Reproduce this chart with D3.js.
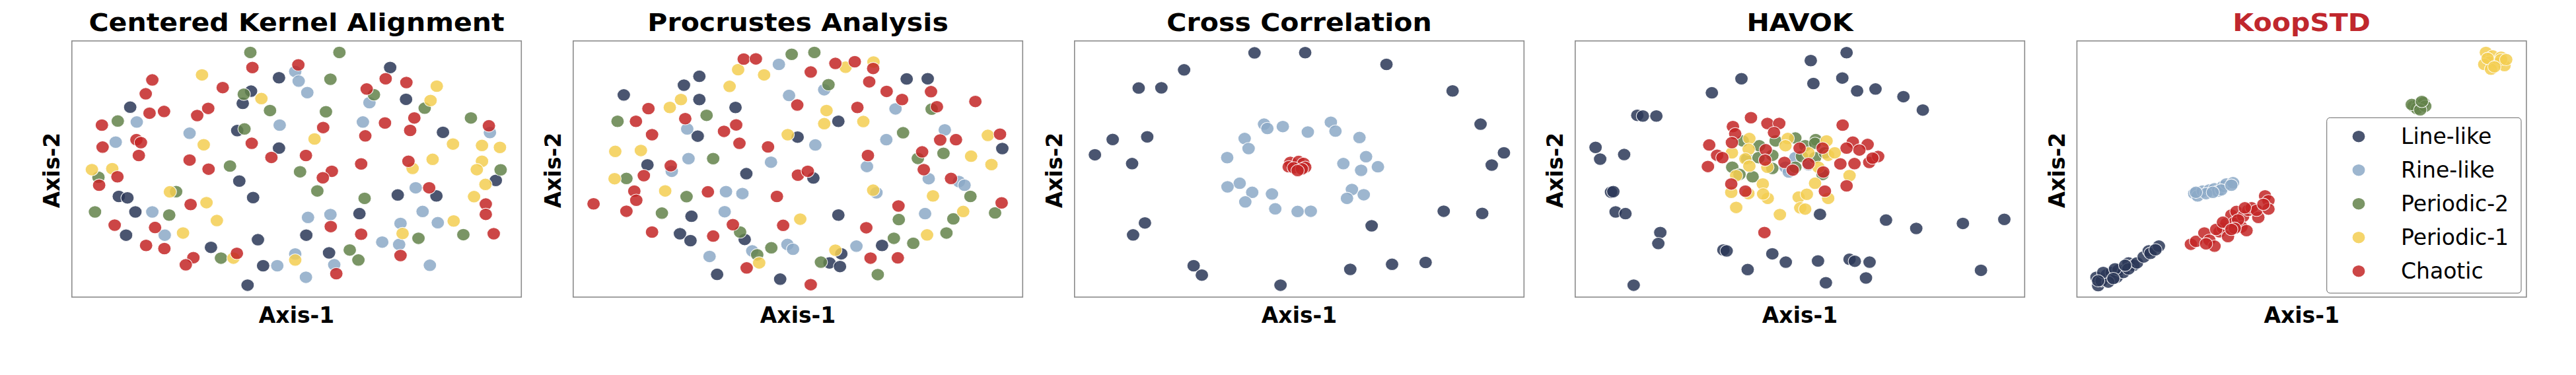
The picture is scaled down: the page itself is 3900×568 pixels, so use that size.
<!DOCTYPE html>
<html><head><meta charset="utf-8">
<script src="https://cdn.jsdelivr.net/npm/d3@7"></script>
<style>body{margin:0;background:#fff}svg{display:block}</style>
</head><body>
<script>
// ---- data (embedding coordinates; Axis-2 grows downward) ----
const classes = ["Line-like", "Rine-like", "Periodic-2", "Periodic-1", "Chaotic"];
const classColors = ["#2a3757", "#8ca9c7", "#63834a", "#f3ce51", "#c32626"];
const panelTitles = ["Centered Kernel Alignment", "Procrustes Analysis", "Cross Correlation", "HAVOK", "KoopSTD"];
const xDomains = [[208,1510],[96,1464],[94,1460],[90,1458],[87,1420]];
const yDomain = [172,1243];

// class codes: 0 Line-like, 1 Rine-like, 2 Periodic-2, 3 Periodic-1, 4 Chaotic
const ckaPoints = [
[725,220,2],[983,220,2],[855,300,1],[731,283,4],[864,272,4],[1130,283,0],
[585,314,3],[808,326,0],[865,340,1],[957,332,2],[441,335,4],[1117,330,4],[1177,346,4],[1265,361,3],
[645,367,4],[422,393,4],[727,382,0],[706,395,2],[757,413,3],[890,388,1],[1062,373,4],[1083,397,2],[1176,416,0],[1247,421,3],
[703,433,0],[1070,430,1],[1230,453,2],[377,449,0],[433,474,4],[475,467,4],[603,454,4],[571,484,4],[782,463,2],[944,468,2],[1200,494,4],
[341,507,2],[396,511,1],[295,524,4],[810,524,1],[1051,511,1],[1115,515,4],[936,534,4],[1188,546,4],[1364,494,2],[1419,555,1],[1416,527,4],[687,547,0],[708,540,2],[549,558,1],[1283,554,0],[1058,569,4],
[335,595,1],[395,585,4],[408,597,4],[590,606,3],[911,582,3],[729,600,4],[297,616,4],[1312,603,3],[1396,609,3],[1448,617,3],
[808,620,0],[402,651,4],[786,659,4],[886,651,4],[1046,686,4],[1195,705,3],[1183,675,4],[1253,667,3],[1396,675,3],
[266,710,3],[325,706,3],[285,742,2],[340,740,4],[549,670,4],[604,708,4],[666,695,2],[869,719,2],[961,717,4],[935,744,4],[1381,710,3],[1450,711,2],
[287,775,4],[693,758,0],[1436,755,0],[1406,772,3],[1204,786,1],[1243,786,4],[919,799,2],
[344,822,0],[369,828,0],[510,802,2],[492,803,3],[733,827,0],[1056,830,2],[1152,816,0],[1264,820,0],[1373,823,3],[1407,854,4],
[552,856,4],[598,848,3],[275,887,2],[392,887,0],[441,887,1],[490,900,2],[892,910,1],[957,898,1],[1041,894,0],[1224,885,1],[1407,897,4],
[628,923,3],[332,942,4],[449,952,4],[1160,935,1],[1268,932,1],[1314,925,3],[958,948,4],
[365,984,0],[477,984,1],[530,975,3],[747,1003,0],[887,984,0],[1046,980,4],[1166,977,3],[1212,997,2],[1342,982,2],[1430,978,4],
[423,1027,4],[476,1040,4],[611,1035,0],[1107,1013,1],[1156,1023,1],[1013,1046,2],
[640,1080,2],[676,1080,3],[560,1078,4],[686,1060,4],[855,1063,1],[855,1088,3],[953,1058,0],[1038,1088,2],[1160,1069,4],
[538,1108,4],[762,1112,0],[803,1112,1],[968,1108,1],[974,1145,4],[886,1160,1],[1245,1110,1],[717,1193,0]
];

const procrustesPoints = [
[761,228,2],[830,220,2],
[615,248,4],[652,247,4],[722,270,1],[894,266,4],[953,259,4],[1010,260,3],[925,282,3],[1009,287,4],
[598,292,3],[677,314,3],[819,302,4],[480,320,0],[1111,331,0],[1175,330,0],[997,343,4],[433,357,0],[572,362,3],[860,376,1],[873,355,2],
[1050,383,4],[1185,384,4],[250,398,0],[753,400,1],[424,417,3],[480,417,0],[1097,417,4],[1320,425,4],
[325,455,4],[390,450,3],[590,450,0],[778,440,4],[961,450,4],[1077,456,1],[1187,457,2],[1203,447,4],[867,463,3],
[231,508,2],[287,508,4],[502,483,2],[437,497,4],[592,523,4],[860,518,3],[903,508,0],[979,509,3],
[443,540,1],[475,570,0],[336,564,4],[555,550,4],[779,574,0],[749,564,3],[1100,556,2],[1227,544,1],[1213,586,4],[1261,585,4],[1358,567,3],[1395,562,4],[1049,585,1],
[224,634,3],[302,630,3],[602,600,4],[689,615,4],[833,607,1],[993,651,4],[1145,663,2],[1158,636,4],[1223,642,2],[1402,622,0],[1307,654,3],
[322,690,0],[396,717,1],[393,694,4],[447,664,1],[522,664,2],[698,679,1],[1369,689,3],[990,697,1],[1163,710,4],
[222,748,3],[258,747,2],[311,735,4],[623,727,0],[827,745,0],[780,733,4],[810,717,4],[1178,748,1],[1270,760,1],[1287,775,1],[1246,747,4],
[282,800,4],[288,838,4],[376,799,3],[441,823,2],[506,803,4],[561,802,1],[611,810,1],[716,822,4],[1019,807,1],[1009,796,3],[1191,820,3],[1305,822,2],[1400,849,4],
[158,853,4],[258,884,4],[366,892,2],[456,905,0],[557,886,1],[1086,862,4],[1167,894,1],[1283,885,3],[1380,891,2],[903,900,0],[787,917,3],
[1087,919,2],[1253,916,2],[582,940,4],[735,943,4],[988,953,4],[336,971,4],[421,978,0],[522,988,4],[618,1002,0],[604,971,2],[1173,983,3],[1232,975,2],[453,1007,0],
[1072,997,2],[1131,1018,2],[1036,1027,0],[958,1030,1],[748,1023,1],[765,1043,1],[699,1037,2],[641,1050,1],[656,1066,2],[912,1062,0],[894,1047,3],[511,1073,1],
[1001,1080,4],[1084,1079,4],[662,1100,3],[624,1121,4],[876,1100,0],[908,1115,0],[850,1097,2],[534,1148,0],[726,1168,0],[1023,1149,2],[819,1191,4]
];

const crossCorrPoints = [
[641,222,0],[795,221,0],[1042,270,0],[427,293,0],[289,369,0],[358,368,0],[1243,381,0],[1328,520,0],[210,584,0],[315,573,0],
[156,648,0],[269,685,0],[1399,640,0],[1362,691,0],[1216,884,0],[1333,893,0],[997,945,0],[308,933,0],[272,983,0],[456,1112,0],
[481,1151,0],[720,1193,0],[932,1127,0],[1059,1106,0],[1161,1098,0],
[670,520,1],[680,538,1],[727,530,1],[803,553,1],[873,512,1],[887,549,1],[960,576,1],[611,580,1],[623,622,1],[558,660,1],
[980,656,1],[911,685,1],[965,713,1],[1016,698,1],[596,767,1],[559,782,1],[634,805,1],[694,812,1],[613,845,1],[704,874,1],
[772,885,1],[812,884,1],[937,793,1],[973,815,1],[922,830,1],
[750,680,4],[775,676,4],[790,684,4],[745,698,4],[795,700,4],[760,702,4],[785,707,4],[772,714,4]
];

const havokPoints = [
[916,221,0],[807,254,0],[596,330,0],[815,350,0],[903,327,0],[506,389,0],[948,381,0],[1004,373,0],[1089,405,0],[1148,461,0],
[279,483,0],[296,486,0],[337,486,0],[152,617,0],[166,666,0],[239,647,0],[199,804,0],[206,802,0],[213,887,0],[243,894,0],
[349,973,0],[343,1019,0],[541,1046,0],[551,1050,0],[690,1062,0],[731,1097,0],[835,897,0],[829,1092,0],[925,1085,0],[941,1093,0],
[986,1097,0],[615,1128,0],[853,1183,0],[975,1163,0],[268,1193,0],[1036,921,0],[1128,956,0],[1270,935,0],[1396,918,0],[1325,1131,0],
[730,700,1],[740,720,1],[800,690,1],[760,660,1],
[600,590,2],[650,610,2],[700,590,2],[760,578,2],[822,585,2],[790,610,2],[568,700,2],[613,665,2],[648,660,2],[690,650,2],
[690,705,2],[630,740,2],[590,730,2],[820,660,2],[850,640,2],[780,655,2],[760,700,2],[843,730,2],[820,600,2],
[620,580,3],[737,580,3],[855,590,3],[618,625,3],[567,640,3],[608,665,3],[675,700,3],[620,695,3],[580,735,3],[730,610,3],
[800,640,3],[860,650,3],[880,640,3],[925,735,3],[661,770,3],[820,767,3],[565,805,3],[617,810,3],[676,830,3],[662,812,3],
[770,825,3],[795,813,3],[860,830,3],[580,868,3],[775,870,3],[790,875,3],[713,898,3],[830,700,3],
[625,493,4],[570,530,4],[675,517,4],[711,517,4],[695,555,4],[577,560,4],[567,597,4],[498,607,4],[522,650,4],[538,660,4],
[494,697,4],[670,627,4],[668,670,4],[727,680,4],[752,712,4],[773,620,4],[800,685,4],[843,620,4],[845,720,4],[904,524,4],
[935,595,4],[916,620,4],[980,605,4],[955,628,4],[897,686,4],[940,685,4],[985,680,4],[1012,655,4],[995,662,4],[565,770,4],
[608,800,4],[850,800,4],[916,778,4],[666,973,4]
];

const koopstdPoints = [
[150,1195,0],[145,1160,0],[160,1175,0],[175,1150,0],[190,1140,0],[205,1160,0],[210,1130,0],[225,1140,0],[240,1100,0],[255,1110,0],
[240,1125,0],[265,1100,0],[285,1075,0],[300,1050,0],[305,1060,0],[330,1030,0],[320,1045,0],[180,1180,0],[165,1140,0],[200,1125,0],
[150,1175,0],[195,1165,0],[230,1110,0],
[435,810,1],[445,820,1],[460,800,1],[480,795,1],[495,790,1],[505,800,1],[520,780,1],[530,770,1],[550,765,1],[515,795,1],
[470,810,1],[440,805,1],[545,775,1],[490,805,1],
[1085,445,2],[1100,435,2],[1115,430,2],[1095,455,2],[1120,445,2],[1080,438,2],[1105,460,2],[1110,425,2],
[1300,220,3],[1320,235,3],[1345,240,3],[1310,260,3],[1335,265,3],[1355,275,3],[1295,270,3],[1315,290,3],[1345,250,3],[1305,245,3],
[1360,250,3],[1325,280,3],
[425,1022,4],[440,1010,4],[465,975,4],[480,1005,4],[495,1030,4],[510,970,4],[520,955,4],[535,990,4],[530,935,4],[545,900,4],
[555,930,4],[560,885,4],[580,905,4],[575,950,4],[590,965,4],[595,880,4],[605,870,4],[625,910,4],[620,880,4],[645,820,4],
[655,840,4],[655,875,4],[640,855,4],[565,920,4],[500,960,4],[555,955,4],[520,930,4],[585,870,4],[545,960,4],[470,1020,4]
];

const allPanels = [ckaPoints, procrustesPoints, crossCorrPoints, havokPoints, koopstdPoints];

// ---- layout ----
const W = 3900, H = 568;
const frameLefts = [108.8, 867.8, 1626.8, 2384.8, 3144.4];
const frameW = 680.5, frameTop = 62, frameH = 388;
const RX = 10, RY = 9.3, OPA = 0.85;
const font = "'DejaVu Sans', sans-serif";

const svg = d3.select("body").append("svg").attr("width", W).attr("height", H);
svg.append("rect").attr("width", W).attr("height", H).attr("fill", "#fff");

allPanels.forEach((pts, i) => {
  const x0 = frameLefts[i];
  const g = svg.append("g");
  const xs = d3.scaleLinear().domain(xDomains[i]).range([x0, x0 + frameW]);
  const ys = d3.scaleLinear().domain(yDomain).range([frameTop, frameTop + frameH]);
  const clipId = "clip" + i;
  svg.append("clipPath").attr("id", clipId).append("rect")
    .attr("x", x0).attr("y", frameTop).attr("width", frameW).attr("height", frameH);
  const sorted = pts.slice().sort((a, b) => a[2] - b[2]);
  g.append("g").attr("clip-path", `url(#${clipId})`).selectAll("ellipse").data(sorted).join("ellipse")
    .attr("cx", d => xs(d[0])).attr("cy", d => ys(d[1])).attr("rx", RX).attr("ry", RY)
    .attr("fill", d => classColors[d[2]]).attr("fill-opacity", OPA)
    .attr("stroke", "#fff").attr("stroke-width", 1.1).attr("stroke-opacity", 0.9);
  g.append("rect").attr("x", x0).attr("y", frameTop).attr("width", frameW).attr("height", frameH)
    .attr("fill", "none").attr("stroke", "#8a8a8a").attr("stroke-width", 1.6);
  g.append("text").attr("transform", `translate(${x0 + frameW / 2},47) scale(1.11,1)`).attr("text-anchor", "middle")
    .attr("font-family", font).attr("font-weight", "bold").attr("font-size", 37)
    .attr("fill", i === 4 ? "#c0272d" : "#000").text(panelTitles[i]);
  g.append("text").attr("x", x0 + frameW / 2).attr("y", 489.3).attr("text-anchor", "middle")
    .attr("font-family", font).attr("font-weight", "bold").attr("font-size", 33).text("Axis-1");
  g.append("text").attr("transform", `translate(${x0 - 18.5},${frameTop + frameH / 2 + 2}) rotate(-90)`)
    .attr("text-anchor", "middle").attr("font-family", font).attr("font-weight", "bold").attr("font-size", 33).text("Axis-2");
});

// ---- legend (in last panel) ----
const lg = svg.append("g");
lg.append("rect").attr("x", 3522.7).attr("y", 178.3).attr("width", 294.3).attr("height", 265.7)
  .attr("rx", 5).attr("fill", "#fff").attr("fill-opacity", 0.8).attr("stroke", "#666").attr("stroke-width", 1);
classes.forEach((c, k) => {
  const yy = 206.7 + k * 51;
  lg.append("ellipse").attr("cx", 3571).attr("cy", yy).attr("rx", RX).attr("ry", RY)
    .attr("fill", classColors[k]).attr("fill-opacity", OPA).attr("stroke", "#fff").attr("stroke-width", 1.1);
  lg.append("text").attr("x", 3635).attr("y", yy).attr("dy", "0.35em")
    .attr("font-family", font).attr("font-size", 33).text(c);
});
</script>
</body></html>
